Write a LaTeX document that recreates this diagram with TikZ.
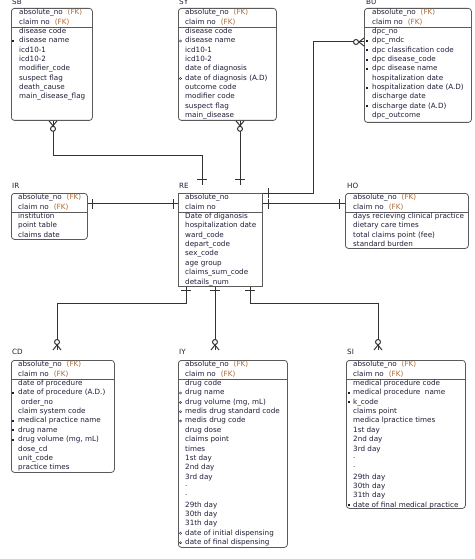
\documentclass[tikz,border=0pt]{standalone}
\usepackage{fontspec}
\setmainfont{DejaVu Sans}
\usetikzlibrary{calc}
\definecolor{txt}{HTML}{1E1E3A}
\definecolor{fkc}{HTML}{B06A35}
\definecolor{bord}{HTML}{5A5A5A}
\definecolor{wirec}{HTML}{333333}
\newcommand\fk{\hspace{5pt}\textcolor{fkc}{(FK)}}
\tikzset{
 ent/.style={draw=bord, line width=0.8pt, rounded corners=3pt, anchor=north west, inner sep=0pt, fill=white},
 entsq/.style={ent, rounded corners=0pt},
 row/.style={anchor=west, inner sep=0pt, font=\fontsize{7.2pt}{8pt}\selectfont, text=txt, text height=5.3pt, text depth=1.6pt},
 lab/.style={row},
 sepl/.style={draw=bord, line width=0.8pt},
 wire/.style={draw=wirec, line width=1pt},
}
\newcommand\erows[4]{\foreach [count=\i] \rw in {#4} \node[row] (#1-\i) at (#2, #3+5+\i*9.35-9.35) {\rw};}
\newcommand\sqm[3]{\fill[txt] (#1-1, #2+5+#3*9.35-9.35-1) rectangle ++(2,2);}
\newcommand\cim[3]{\draw[txt, line width=0.4pt] (#1, #2+5+#3*9.35-9.35) circle (1.1pt);}
\newcommand\sepr[1]{\draw[sepl] ($(#1.north west)+(0,19)$) -- ($(#1.north east)+(0,19)$);}
\newcommand\tickh[1]{\draw[wire] ([xshift=-5pt]#1) -- ([xshift=5pt]#1);}
\newcommand\tickv[1]{\draw[wire] ([yshift=-5pt]#1) -- ([yshift=5pt]#1);}
\newcommand\footdn[1]{\draw[wire] ([xshift=-4pt]#1) -- ([yshift=-5pt]#1) -- ([xshift=4pt]#1);
 \draw[wire,fill=white] ([yshift=-8pt]#1) circle (2.5pt);}
\newcommand\footup[1]{\draw[wire] ([xshift=-4pt]#1) -- ([yshift=5pt]#1) -- ([xshift=4pt]#1);
 \draw[wire,fill=white] ([yshift=8pt]#1) circle (2.5pt);}
\newcommand\footlt[1]{\draw[wire] ([yshift=-4pt]#1) -- ([xshift=-5pt]#1) -- ([yshift=4pt]#1);
 \draw[wire,fill=white] ([xshift=-8pt]#1) circle (2.5pt);}
\begin{document}
\begin{tikzpicture}[x=1pt,y=-1pt]
\useasboundingbox (0,0) rectangle (474,559);
\fill[white] (0,0) rectangle (474,559);

% ---------- entities ----------
% SB
\node[ent, minimum width=81pt, minimum height=112pt] (SB) at (11,8) {};
\node[lab] (SBl) at (12,3) {SB};
\sepr{SB}
\erows{sb}{19}{8}{absolute\_no\fk, claim no\fk, disease code, disease name, icd10-1, icd10-2, modifier\_code, suspect flag, death\_cause, main\_disease\_flag}
\sqm{13}{8}{4}

% SY
\node[ent, minimum width=98pt, minimum height=112pt] (SY) at (178,8) {};
\node[lab] (SYl) at (179,3) {SY};
\sepr{SY}
\erows{sy}{185}{8}{absolute\_no\fk, claim no\fk, disease code, disease name, icd10-1, icd10-2, date of diagnosis, date of diagnosis (A.D), outcome code, modifier code, suspect flag, main\_disease}
\cim{180.5}{8}{4}
\cim{180.5}{8}{8}

% BU
\node[ent, minimum width=107pt, minimum height=114pt] (BU) at (364,8) {};
\node[lab] (BUl) at (366,3) {BU};
\sepr{BU}
\erows{bu}{372}{8}{absolute\_no\fk, claim no\fk, dpc\_no, dpc\_mdc, dpc classification code, dpc disease\_code, dpc disease name, hospitalization date, hospitalization date (A.D), discharge date, discharge date (A.D), dpc\_outcome}
\foreach \k in {4,5,6,7,9,11} {\sqm{367}{8}{\k}}

% IR
\node[ent, minimum width=76pt, minimum height=46pt] (IR) at (11,193) {};
\node[lab] (IRl) at (12,187) {IR};
\sepr{IR}
\erows{ir}{18}{193}{absolute\_no\fk, claim no\fk, institution, point table, claims date}

% RE
\node[entsq, minimum width=84pt, minimum height=93pt] (RE) at (178,193) {};
\node[lab] (REl) at (179,187) {RE};
\sepr{RE}
\erows{re}{185}{193}{absolute\_no, claim no, Date of diganosis, hospitalization date, ward\_code, depart\_code, sex\_code, age group, claims\_sum\_code, details\_num}

% HO
\node[ent, minimum width=123pt, minimum height=55pt] (HO) at (345,193) {};
\node[lab] (HOl) at (347,187) {HO};
\sepr{HO}
\erows{ho}{353}{193}{absolute\_no\fk, claim no\fk, days recieving clinical practice, dietary care times, total claims point (fee), standard burden}

% CD
\node[ent, minimum width=103pt, minimum height=112pt] (CD) at (11,360) {};
\node[lab] (CDl) at (12,353) {CD};
\sepr{CD}
\erows{cd}{18}{360}{absolute\_no\fk, claim no\fk, date of procedure, date of procedure (A.D.), \hspace{3pt}order\_no, claim system code, medical practice name, drug name, {drug volume (mg, mL)}, dose\_cd, unit\_code, practice times}
\foreach \k in {4,7,8,9} {\sqm{13}{360}{\k}}

% IY
\node[ent, minimum width=109pt, minimum height=187pt] (IY) at (178,360) {};
\node[lab] (IYl) at (179,353) {IY};
\sepr{IY}
\erows{iy}{185}{360}{absolute\_no\fk, claim no\fk, drug code, drug name, {drug volume (mg, mL)}, medis drug standard code, medis drug code, drug dose, claims point, times, 1st day, 2nd day, 3rd day, ·, ·, 29th day, 30th day, 31th day, date of initial dispensing, date of final dispensing}
\foreach \k in {4,5,6,7,19,20} {\cim{180.5}{360}{\k}}

% SI
\node[ent, minimum width=119pt, minimum height=148pt] (SI) at (346,360) {};
\node[lab] (SIl) at (347,353) {SI};
\sepr{SI}
\erows{si}{353}{360}{absolute\_no\fk, claim no\fk, medical procedure code, medical procedure\ \ name, k\_code, claims point, medica lpractice times, 1st day, 2nd day, 3rd day, ·, ·, 29th day, 30th day, 31th day, date of final medical practice}
\foreach \k in {4,5,16} {\sqm{348.5}{360}{\k}}

% ---------- connectors ----------
% SB -> RE
\coordinate (sbA) at ($(SB.south west)+(42,0)$);
\coordinate (reA) at ($(RE.north west)+(24,-8)$);
\draw[wire] (sbA) -- ++(0,35) -| (reA);
\footdn{sbA}
\coordinate (t1) at ($(reA)+(0,-6)$); \tickh{t1}

% SY -> RE
\coordinate (syA) at ($(SY.south west)+(62,0)$);
\coordinate (reB) at ($(RE.north west)+(62,-8)$);
\draw[wire] (syA) -- (reB);
\footdn{syA}
\coordinate (t2) at ($(reB)+(0,-6)$); \tickh{t2}

% BU -> RE
\coordinate (buA) at ($(BU.north west)+(0,34)$);
\coordinate (reC) at (RE.north east);
\draw[wire] (buA) -- ++(-51,0) |- (reC);
\footlt{buA}
\coordinate (t3) at ($(reC)+(6,0)$); \tickv{t3}

% IR -- RE
\coordinate (irA) at ($(IR.north east)+(0,10.5)$);
\coordinate (reD) at ($(RE.north west)+(0,10.5)$);
\draw[wire] (irA) -- (reD);
\coordinate (t4) at ($(irA)+(5,0)$); \tickv{t4}
\coordinate (t5) at ($(reD)+(-5,0)$); \tickv{t5}

% RE -- HO
\coordinate (reE) at ($(RE.north east)+(0,10.5)$);
\coordinate (hoA) at ($(HO.north west)+(0,10.5)$);
\draw[wire] (reE) -- (hoA);
\coordinate (t6) at ($(reE)+(6,0)$); \tickv{t6}
\coordinate (t7) at ($(hoA)+(-6,0)$); \tickv{t7}

% RE -> CD
\coordinate (reF) at ($(RE.south west)+(8,0)$);
\coordinate (cdA) at ($(CD.north west)+(46,-10)$);
\draw[wire] (reF) -- ++(0,17) -| (cdA);
\footup{cdA}
\coordinate (t8) at ($(reF)+(0,4)$); \tickh{t8}

% RE -> IY
\coordinate (reG) at ($(RE.south west)+(37,0)$);
\coordinate (iyA) at ($(IY.north west)+(37,-10)$);
\draw[wire] (reG) -- (iyA);
\footup{iyA}
\coordinate (t9) at ($(reG)+(0,4)$); \tickh{t9}

% RE -> SI
\coordinate (reH) at ($(RE.south west)+(72,0)$);
\coordinate (siA) at ($(SI.north west)+(32,-10)$);
\draw[wire] (reH) -- ++(0,17) -| (siA);
\footup{siA}
\coordinate (t10) at ($(reH)+(0,4)$); \tickh{t10}
\end{tikzpicture}
\end{document}
